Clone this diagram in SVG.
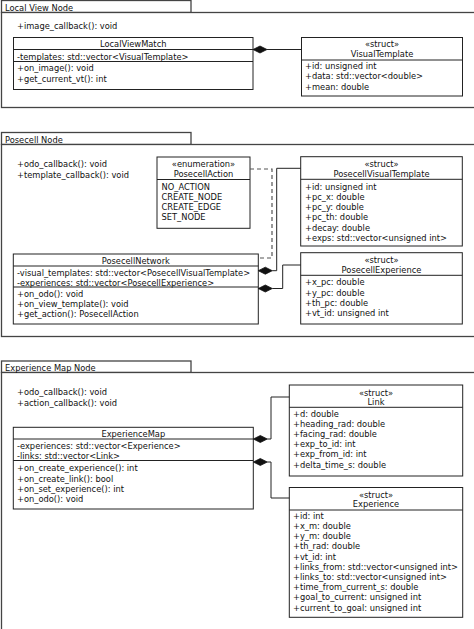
<svg xmlns="http://www.w3.org/2000/svg" width="474" height="629" viewBox="0 0 474 629">
<style>
text{font-family:"DejaVu Sans","Verdana",sans-serif;font-size:8.3px;fill:#111}
.c{text-anchor:middle}
.pkg{fill:#fff;stroke:#444;stroke-width:1.3}
.box{fill:#fff;stroke:#222;stroke-width:1}
.div{stroke:#222;stroke-width:1}
.con{fill:none;stroke:#222;stroke-width:1}
.dash{fill:none;stroke:#555;stroke-width:1.2;stroke-dasharray:4 3}
.dia{fill:#111;stroke:#111;stroke-width:0.8}
</style>
<rect width="474" height="629" fill="#fff"/>

<g id="pkg-localview">
<rect class="pkg" x="1.5" y="0.5" width="189.5" height="12"/>
<rect class="pkg" x="1.5" y="12.5" width="500" height="95"/>
<text x="5" y="11">Local View Node</text>
<text x="17" y="29">+image_callback(): void</text>
</g>

<g id="pkg-posecell">
<rect class="pkg" x="1.5" y="132.5" width="189.5" height="12"/>
<rect class="pkg" x="1.5" y="144.5" width="500" height="192"/>
<text x="5" y="143">Posecell Node</text>
<text x="17" y="167.3">+odo_callback(): void</text>
<text x="17" y="177.5">+template_callback(): void</text>
</g>

<g id="pkg-expmap">
<rect class="pkg" x="1.5" y="361" width="189.5" height="11.5"/>
<rect class="pkg" x="1.5" y="372.5" width="500" height="300"/>
<text x="5" y="371">Experience Map Node</text>
<text x="17" y="395.3">+odo_callback(): void</text>
<text x="17" y="405.5">+action_callback(): void</text>
</g>

<g id="LocalViewMatch">
<rect class="box" x="13.5" y="37.5" width="239.5" height="52"/>
<text class="c" x="133.2" y="47">LocalViewMatch</text>
<line class="div" x1="13.5" y1="49.5" x2="253" y2="49.5"/>
<text x="17" y="59.5">-templates: std::vector&lt;VisualTemplate&gt;</text>
<line class="div" x1="13.5" y1="61.5" x2="253" y2="61.5"/>
<text x="17" y="71.3">+on_image(): void</text>
<text x="17" y="81.5">+get_current_vt(): int</text>
</g>

<g id="VisualTemplate">
<rect class="box" x="301.5" y="37.5" width="161" height="58.5"/>
<text class="c" x="382" y="46.5">«struct»</text>
<text class="c" x="382" y="57.3">VisualTemplate</text>
<line class="div" x1="301.5" y1="60" x2="462.5" y2="60"/>
<text x="305" y="69">+id: unsigned int</text>
<text x="305" y="79.4">+data: std::vector&lt;double&gt;</text>
<text x="305" y="89.8">+mean: double</text>
</g>

<g id="PosecellAction">
<rect class="box" x="157" y="157" width="93" height="71.3"/>
<text class="c" x="203.5" y="167.3">«enumeration»</text>
<text class="c" x="203.5" y="177.3">PosecellAction</text>
<line class="div" x1="157" y1="179.5" x2="250" y2="179.5"/>
<text x="161.5" y="189.7">NO_ACTION</text>
<text x="161.5" y="199.9">CREATE_NODE</text>
<text x="161.5" y="210.1">CREATE_EDGE</text>
<text x="161.5" y="220.3">SET_NODE</text>
</g>

<g id="PosecellVisualTemplate">
<rect class="box" x="300.7" y="156.7" width="161.6" height="89.3"/>
<text class="c" x="381.5" y="167">«struct»</text>
<text class="c" x="381.5" y="177">PosecellVisualTemplate</text>
<line class="div" x1="300.7" y1="179.3" x2="462.3" y2="179.3"/>
<text x="305" y="189.7">+id: unsigned int</text>
<text x="305" y="199.9">+pc_x: double</text>
<text x="305" y="210.1">+pc_y: double</text>
<text x="305" y="220.3">+pc_th: double</text>
<text x="305" y="230.5">+decay: double</text>
<text x="305" y="240.7">+exps: std::vector&lt;unsigned int&gt;</text>
</g>

<g id="PosecellExperience">
<rect class="box" x="300.7" y="252.7" width="161.6" height="71.3"/>
<text class="c" x="381.5" y="262.5">«struct»</text>
<text class="c" x="381.5" y="272.8">PosecellExperience</text>
<line class="div" x1="300.7" y1="275.3" x2="462.3" y2="275.3"/>
<text x="305" y="285.3">+x_pc: double</text>
<text x="305" y="295.5">+y_pc: double</text>
<text x="305" y="305.7">+th_pc: double</text>
<text x="305" y="315.9">+vt_id: unsigned int</text>
</g>

<g id="PosecellNetwork">
<rect class="box" x="13.3" y="254" width="245" height="70"/>
<text class="c" x="135.8" y="263.7">PosecellNetwork</text>
<line class="div" x1="13.3" y1="266" x2="258.3" y2="266"/>
<text x="17" y="275.6">-visual_templates: std::vector&lt;PosecellVisualTemplate&gt;</text>
<text x="17" y="285.8">-experiences: std::vector&lt;PosecellExperience&gt;</text>
<line class="div" x1="13.3" y1="287" x2="258.3" y2="287"/>
<text x="17" y="297">+on_odo(): void</text>
<text x="17" y="307.2">+on_view_template(): void</text>
<text x="17" y="317.4">+get_action(): PosecellAction</text>
</g>

<g id="ExperienceMap">
<rect class="box" x="13.3" y="427.3" width="240" height="81.7"/>
<text class="c" x="133.3" y="437">ExperienceMap</text>
<line class="div" x1="13.3" y1="439" x2="253.3" y2="439"/>
<text x="17" y="449">-experiences: std::vector&lt;Experience&gt;</text>
<text x="17" y="459.2">-links: std::vector&lt;Link&gt;</text>
<line class="div" x1="13.3" y1="460.5" x2="253.3" y2="460.5"/>
<text x="17" y="471.3">+on_create_experience(): int</text>
<text x="17" y="481.5">+on_create_link(): bool</text>
<text x="17" y="491.7">+on_set_experience(): int</text>
<text x="17" y="501.9">+on_odo(): void</text>
</g>

<g id="Link">
<rect class="box" x="289.3" y="385" width="173.4" height="91"/>
<text class="c" x="376" y="395.8">«struct»</text>
<text class="c" x="376" y="405">Link</text>
<line class="div" x1="289.3" y1="407.3" x2="462.7" y2="407.3"/>
<text x="293" y="416.5">+d: double</text>
<text x="293" y="426.7">+heading_rad: double</text>
<text x="293" y="436.9">+facing_rad: double</text>
<text x="293" y="447.1">+exp_to_id: int</text>
<text x="293" y="457.3">+exp_from_id: int</text>
<text x="293" y="467.5">+delta_time_s: double</text>
</g>

<g id="Experience">
<rect class="box" x="289.3" y="487.5" width="173.4" height="129.8"/>
<text class="c" x="376" y="498">«struct»</text>
<text class="c" x="376" y="507.3">Experience</text>
<line class="div" x1="289.3" y1="510" x2="462.7" y2="510"/>
<text x="293" y="518.7">+id: int</text>
<text x="293" y="528.9">+x_m: double</text>
<text x="293" y="539.1">+y_m: double</text>
<text x="293" y="549.3">+th_rad: double</text>
<text x="293" y="559.5">+vt_id: int</text>
<text x="293" y="569.7">+links_from: std::vector&lt;unsigned int&gt;</text>
<text x="293" y="579.9">+links_to: std::vector&lt;unsigned int&gt;</text>
<text x="293" y="590.1">+time_from_current_s: double</text>
<text x="293" y="600.3">+goal_to_current: unsigned int</text>
<text x="293" y="610.5">+current_to_goal: unsigned int</text>
</g>

<g id="connectors">
<path class="con" d="M267,49.5 H301.5"/>
<polygon class="dia" points="253,49.5 260,46 267,49.5 260,53"/>
<path class="dash" d="M250,169 H272 V258 H258.3"/>
<path class="con" d="M272.3,270.7 H276.7 V168.3 H300.7"/>
<polygon class="dia" points="258.3,270.7 265.3,267.2 272.3,270.7 265.3,274.2"/>
<path class="con" d="M272.3,288.5 H282.7 V265 H300.7"/>
<polygon class="dia" points="258.3,288.5 265.3,285 272.3,288.5 265.3,292"/>
<path class="con" d="M267.3,439 H271 V397 H289.3"/>
<polygon class="dia" points="253.3,439 260.3,435.5 267.3,439 260.3,442.5"/>
<path class="con" d="M267.3,462 H271 V498 H289.3"/>
<polygon class="dia" points="253.3,462 260.3,458.5 267.3,462 260.3,465.5"/>
</g>
</svg>
